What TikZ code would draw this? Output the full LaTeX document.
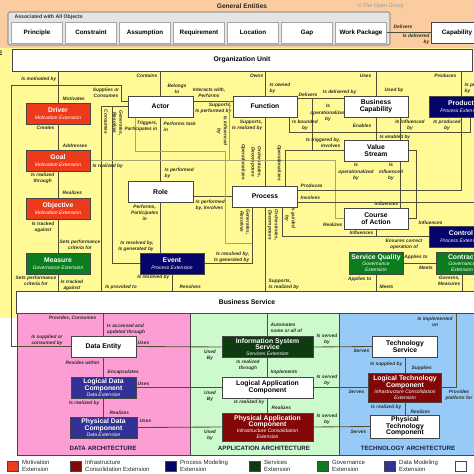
\documentclass[tikz,border=0pt]{standalone}
\usepackage{fontspec}
\setmainfont{Liberation Sans}
\usepackage[rgb]{xcolor}
\usepackage{tikz}
\usetikzlibrary{calc}

\definecolor{peach}{RGB}{250,204,160}
\definecolor{panelgray}{RGB}{228,228,228}
\definecolor{paleyellow}{RGB}{255,250,150}
\definecolor{motivred}{RGB}{238,58,26}
\definecolor{govgreen}{RGB}{10,125,30}
\definecolor{procnavy}{RGB}{5,5,105}
\definecolor{servgreen}{RGB}{14,60,16}
\definecolor{infrared}{RGB}{130,8,8}
\definecolor{datablue}{RGB}{50,50,150}
\definecolor{datapink}{RGB}{252,158,212}
\definecolor{appgreen}{RGB}{204,250,204}
\definecolor{techblue}{RGB}{152,202,248}
\definecolor{wire}{RGB}{80,80,55}
\definecolor{litewire}{RGB}{165,165,115}
\definecolor{boxedge}{RGB}{70,70,70}
\definecolor{reltext}{RGB}{45,45,35}
\definecolor{archtext}{RGB}{30,30,60}

\newcommand\boxtitlefont{\fontsize{6.8}{7.4}\selectfont\bfseries}
\newcommand\toprowfont{\fontsize{6.3}{7}\selectfont\bfseries}
\newcommand\extsubfont{\fontsize{5}{5.6}\selectfont\mdseries\itshape}
\newcommand\relfont{\fontsize{4.8}{6.2}\selectfont\bfseries\itshape}
\newcommand\legendfont{\fontsize{6}{6.6}\selectfont}
\newcommand\archfont{\fontsize{6.2}{7}\selectfont\bfseries}

\pgfdeclarelayer{bg}
\pgfdeclarelayer{wires}
\pgfsetlayers{bg,wires,main}

\begin{document}
\begin{tikzpicture}[x=1pt, y=-1pt,
  box/.style={draw=boxedge, line width=0.6pt, fill=white, inner sep=1pt, align=center, font=\boxtitlefont, minimum height=21pt},
  extbox/.style={box, text=white},
  rel/.style={font=\relfont, text=reltext, inner sep=0.3pt, align=center},
  vlab/.style={rel, rotate=-90},
  conn/.style={draw=wire, line width=0.85pt},
  lite/.style={draw=litewire, line width=0.6pt},
  legsq/.style={draw=boxedge, line width=0.5pt, minimum size=10.5pt, inner sep=0pt, anchor=north west}]

\useasboundingbox (0,0) rectangle (474,474);

% general entities
\node[font=\fontsize{6.6}{7}\selectfont\bfseries, text=black!85] (genent) at (242,6.5) {General Entities};
\node[font=\fontsize{5.2}{6}\selectfont\bfseries, text=black!80, anchor=west] (allobj) at (11,17.5) {Associated with All Objects};
\node[font=\fontsize{5.4}{6}\selectfont, text=black!40, anchor=west] (openg) at (354,6) {© The Open Group};
\foreach \i/\t in {0/Principle, 1/Constraint, 2/Assumption, 3/Requirement, 4/Location, 5/Gap, 6/Work Package}
  \node[box, draw=gray!70, minimum width=51pt, font=\toprowfont] (ge\i) at ({37+54*\i},32.5) {\t};
\node[box, minimum width=52pt, font=\toprowfont] (capability) at (457,32.5) {Capability};

% business architecture
\node[box, minimum width=460pt, minimum height=22pt] (orgunit) at (242,60) {Organization Unit};
\node[font=\fontsize{6.4}{7}\selectfont\bfseries, anchor=east] (archcorner) at (6,53) {E};

\node[extbox, fill=motivred, minimum width=64pt] (driver) at (58,113.5) {Driver\\{\extsubfont Motivation Extension}};
\node[extbox, fill=motivred, minimum width=64pt] (goal) at (58,160.5) {Goal\\{\extsubfont Motivation Extension}};
\node[extbox, fill=motivred, minimum width=64pt] (objective) at (58,208.5) {Objective\\{\extsubfont Motivation Extension}};
\node[extbox, fill=govgreen, minimum width=64pt] (measure) at (58,263.5) {Measure\\{\extsubfont Governance Extension}};

\node[box, minimum width=65pt] (actor) at (160.5,106.5) {Actor};
\node[box, minimum width=65pt] (role) at (160.5,192) {Role};
\node[box, minimum width=64pt] (function) at (265,106.5) {Function};
\node[box, minimum width=65pt] (process) at (265,196.5) {Process};
\node[extbox, fill=procnavy, minimum width=64pt] (event) at (172,263.5) {Event\\{\extsubfont Process Extension}};

\node[box, minimum width=64pt] (bizcap) at (376,106.5) {Business\\Capability};
\node[extbox, fill=procnavy, minimum width=64pt] (product) at (461,106.5) {Product\\{\extsubfont Process Extension}};
\node[box, minimum width=64pt] (valuestream) at (376,150.5) {Value\\Stream};
\node[box, minimum width=64pt] (courseofaction) at (376,218.5) {Course\\of Action};
\node[extbox, fill=procnavy, minimum width=64pt] (control) at (461,236.5) {Control\\{\extsubfont Process Extension}};
\node[extbox, fill=govgreen, minimum width=54pt, minimum height=22pt] (servicequality) at (376,263) {Service Quality\\[-1pt]{\extsubfont Governance}\\[-1.5pt]{\extsubfont Extension}};
\node[extbox, fill=govgreen, minimum width=52pt, minimum height=22pt] (contract) at (462,263) {Contract\\[-1pt]{\extsubfont Governance}\\[-1.5pt]{\extsubfont Extension}};

\node[box, minimum width=462pt, minimum height=22pt] (bizservice) at (247,302) {Business Service};

% data, application and technology
\node[box, minimum width=65pt] (dataentity) at (103.5,346.5) {Data Entity};
\node[extbox, fill=datablue, minimum width=65pt] (ldc) at (103.5,387.5) {Logical Data\\[-1pt]Component\\[-1.5pt]{\extsubfont Data Extension}};
\node[extbox, fill=datablue, minimum width=67pt] (pdc) at (103.5,427.5) {Physical Data\\[-1pt]Component\\[-1.5pt]{\extsubfont Data Extension}};

\node[extbox, fill=servgreen, minimum width=91pt] (iss) at (267.5,347) {Information System\\[-1pt]Service\\[-1.5pt]{\extsubfont Services Extension}};
\node[box, minimum width=91pt] (lac) at (267.5,387.5) {Logical Application\\Component};
\node[extbox, fill=infrared, minimum width=91pt, minimum height=28pt] (pac) at (267.5,427) {Physical Application\\[-1pt]Component\\[-1.5pt]{\extsubfont Infrastructure Consolidation}\\[-1.5pt]{\extsubfont Extension}};

\node[box, minimum width=65pt] (techservice) at (405,346.5) {Technology\\Service};
\node[extbox, fill=infrared, minimum width=73pt, minimum height=29pt] (ltc) at (405,387.5) {Logical Technology\\[-1pt]Component\\[-1.5pt]{\extsubfont Infrastructure Consolidation}\\[-1.5pt]{\extsubfont Extension}};
\node[box, minimum width=69pt, minimum height=23pt] (ptc) at (405,426.5) {Physical\\[-1pt]Technology\\[-1pt]Component};

\node[font=\archfont, text=archtext] (dataarch) at (103,448) {DATA ARCHITECTURE};
\node[font=\archfont, text=archtext] (apparch) at (264,448) {APPLICATION ARCHITECTURE};
\node[font=\archfont, text=archtext] (techarch) at (408,448) {TECHNOLOGY ARCHITECTURE};

% legend
\foreach \lx/\lc/\lt in {7/motivred/{Motivation\\Extension}, 70/infrared/{Infrastructure\\Consolidation Extension}, 165/procnavy/{Process Modeling\\Extension}, 249/servgreen/{Services\\Extension}, 317/govgreen/{Governance\\Extension}, 384/datablue/{Data Modeling\\Extension}}
  {
  \node[legsq, fill=\lc] (sq\lx) at (\lx,460.5) {};
  \node[font=\legendfont, text=black!85, align=left, anchor=west, inner sep=0pt] (lt\lx) at ([xshift=4pt]sq\lx.east) {\lt};
  }
\node[legsq, fill=white] (sqcore) at (455,460.5) {};

\begin{pgfonlayer}{bg}
 \fill[peach] (0,0) rectangle (474,49);
 \fill[paleyellow] (0,48) rectangle (474,318);
 \draw[gray!75!black, line width=0.6pt, fill=panelgray, rounded corners=1.5pt] (8,12) rectangle (390,45);
 \draw[boxedge, line width=0.6pt, fill=datapink] (17,313) rectangle (190,455);
 \draw[boxedge, line width=0.6pt, fill=appgreen] (190,313) rectangle (339,455);
 \draw[boxedge, line width=0.6pt, fill=techblue] (339,313) rectangle (480,455);
\end{pgfonlayer}

\begin{pgfonlayer}{wires}
 \coordinate (consx) at (101,106.5);
 \coordinate (genx) at (112,106.5);
 \coordinate (trigend) at (252,243);
 \coordinate (inflTop) at (229,101);
 \coordinate (inflBot) at (229,160.5);
 \coordinate (deljoin) at (312,98);
 \coordinate (opjoin) at (312,150.5);
 \coordinate (invend) at (474,202);

 \draw[conn] (ge6.east) -- (capability.west)
  node[rel, anchor=west] at (393,26.5) {Delivers}
  node[rel, anchor=north east, align=right] at (430,33) {Is delivered\\by};

 % motivation chain
 \draw[conn] (driver.north) -- (driver.north |- orgunit.south)
  node[rel, anchor=east] at (57,79) {Is motivated by}
  node[rel, anchor=west] at (62,99) {Motivates};
 \draw[conn] (driver.south) -- (goal.north)
  node[rel, anchor=east] at (55,128) {Creates}
  node[rel, anchor=west] at (62,146) {Addresses};
 \draw[conn] (goal.south) -- (objective.north)
  node[rel, anchor=east] at (55,178) {Is realized\\through}
  node[rel, anchor=west] at (62,193) {Realizes};
 \draw[conn] (objective.south) -- (measure.north)
  node[rel, anchor=east] at (55,227) {Is tracked\\against}
  node[rel, anchor=west] at (59,244.5) {Sets performance\\criteria for};
 \draw[conn] (measure.south) -- (measure.south |- bizservice.north)
  node[rel, anchor=east] at (57,280.5) {Sets performance\\criteria for}
  node[rel, anchor=west] at (60,285) {Is tracked\\against};

 % actor and role
 \draw[conn] ([yshift=5.5pt]actor.west) -- ++(-6,0) |- (11,85) |- (dataentity.west)
  node[rel] at (106,93) {Supplies or\\Consumes}
  node[rel] at (47,340) {Is supplied or\\consumed by};
 \draw[conn] (actor.north) -- (actor.north |- orgunit.south)
  node[rel, anchor=east] at (158,76) {Contains}
  node[rel] at (177,89) {Belongs\\to};
 \draw[conn] ([yshift=5.5pt]actor.east) -- ([yshift=5.5pt]function.west)
  node[rel] at (209,93) {Interacts with,\\Performs}
  node[rel, align=right, anchor=north east] at (232,102.5) {Supports,\\Is performed by};
 \draw[conn] (actor.south) -- (role.north)
  node[rel, align=left, anchor=north west] at (163,121) {Performs task\\in}
  node[rel, align=left, anchor=west] at (164,173) {Is performed\\by};
 \draw[conn] (actor.west) -- (consx) -- (consx |- bizservice.north)
  node[vlab] at (106,122) {Consumes}
  node[rel] at (121,287) {Is provided to};
 \draw[conn] (genx) |- (event.west)
  node[vlab] at (118,123) {Generates,\\Resolves}
  node[rel, align=right] at (136,246) {Is resolved by,\\Is generated by};
 \draw[conn] (event.south) -- (event.south |- bizservice.north)
  node[rel, anchor=east] at (170,277.5) {Is resolved by}
  node[rel, anchor=west] at (179,287) {Resolves};
 \draw[conn] (role.south) -- (role.south |- event.north)
  node[rel, anchor=east] at (159,213) {Performs,\\Participates\\in};
 \draw[conn] ([yshift=-4.5pt]role.east) -- (process.west)
  node[rel, align=left, anchor=north west] at (195,199) {Is performed\\by, Involves};
 \draw[lite] ([xshift=-25pt]actor.south) |- (225,151) |- (trigend)
  node[rel, align=right, anchor=north east] at (158,120) {Triggers,\\Participates in};
 \draw[lite] (inflTop) -- (inflBot)
  node[vlab] at (222,131) {Is influenced\\by};

 % function and process
 \draw[conn] (function.north) -- (function.north |- orgunit.south)
  node[rel, anchor=east] at (264,76) {Owns}
  node[rel, align=left, anchor=west] at (269,88) {Is owned\\by};
 \draw[conn] (function.south) -- (process.north)
  node[vlab] at (243,162) {Operationalizes}
  node[vlab] at (256,162) {Orchestrates,\\Decomposes}
  node[rel, align=right, anchor=east] at (263,125.5) {Supports,\\Is realized by};
 \draw[conn] (process.south) -- (process.south |- bizservice.north)
  node[vlab] at (273,225) {Orchestrates,\\Decomposes}
  node[rel, align=left, anchor=west] at (268,284) {Supports,\\Is realized by};
 \draw[conn] (event.east) -| ([xshift=-13pt]process.south)
  node[vlab] at (245,222) {Generates,\\Resolves}
  node[rel, align=right, anchor=east] at (250,257) {Is resolved by,\\Is generated by};
 \draw[lite] (goal.east) -| ([xshift=-8pt]courseofaction.west) -- (courseofaction.west)
  node[rel, anchor=west] at (92,166) {Is realized by}
  node[rel, anchor=east] at (343,225) {Realizes};

 % capability, value stream, product
 \draw[conn] ([yshift=8.5pt]function.east) -- ([yshift=8.5pt]bizcap.west)
  node[rel, anchor=west] at (298,95) {Delivers}
  node[rel, anchor=east] at (357,92) {Is delivered by};
 \draw[conn] (deljoin) -- (opjoin)
  node[rel] at (328,113) {Is\\operationalized\\by};
 \draw[conn] ([xshift=24pt]function.south) -- ++(0,15.5) -| ([xshift=9pt]product.south)
  node[rel] at (305,125.5) {Is bounded\\by}
  node[rel] at (447,125.5) {Is produced\\by};
 \draw[conn] (bizcap.north) -- (bizcap.north |- orgunit.south)
  node[rel, anchor=east] at (372,76) {Uses}
  node[rel, anchor=west] at (384,90) {Used by};
 \draw[conn] (product.north) -- (product.north |- orgunit.south)
  node[rel, anchor=east] at (457,76) {Produces}
  node[rel, align=left, anchor=west] at (464,88) {Is produced\\by};
 \draw[conn] (bizcap.south) -- (valuestream.north)
  node[rel, anchor=east] at (372,126) {Enables}
  node[rel, anchor=west] at (379,137) {Is enabled by};
 \draw[conn] (valuestream.west) -| ([xshift=20pt]process.north)
  node[rel, align=right, anchor=south east] at (341,148.5) {Is triggered by,\\Involves}
  node[vlab] at (279,163) {Operationalizes};
 \draw[conn] ([xshift=24pt]bizcap.south) -- ([xshift=24pt]courseofaction.north)
  node[rel] at (410,125.5) {Is influenced\\by}
  node[rel] at (356,172) {Is\\operationalized\\by}
  node[rel] at (391,172) {Is\\influenced\\by}
  node[rel, anchor=east] at (399,204) {Influences};
 \draw[conn] (valuestream.east) -- ++(8,0) |- (courseofaction.east)
  node[rel, anchor=west] at (418,222.5) {Influences};
 \draw[conn] ([yshift=6pt]process.east) -| (product.south)
  node[rel, anchor=west] at (300,186) {Produces};
 \draw[conn] ([yshift=-5.5pt]process.east) -- (invend)
  node[rel, anchor=west] at (300,197.5) {Involves};

 % course of action, control, governance
 \draw[conn] ([xshift=17pt]process.south) |- (control.west)
  node[vlab] at (290,218) {Is guided\\by}
  node[rel] at (404,244) {Ensures correct\\operation of};
 \draw[conn] (courseofaction.south) -- ++(0,7.5)
  node[rel, anchor=east] at (374,233) {Influences};
 \draw[conn] (servicequality.east) -- (contract.west)
  node[rel] at (416,257) {Applies to}
  node[rel] at (426,267.5) {Meets};
 \draw[conn] (servicequality.south) -- (servicequality.south |- bizservice.north)
  node[rel, anchor=east] at (372,279) {Applies to}
  node[rel, anchor=west] at (379,286.5) {Meets};
 \draw[conn] (contract.south) -- (contract.south |- bizservice.north)
  node[rel, anchor=east] at (461,280.5) {Governs,\\Measures};

 % data architecture
 \draw[conn] (dataentity.north) -- (dataentity.north |- bizservice.south)
  node[rel, anchor=east] at (97,318) {Provides, Consumes}
  node[rel, align=left] at (126,329) {Is accessed and\\updated through};
 \draw[conn] (dataentity.south) -- (ldc.north)
  node[rel, anchor=east] at (100,363) {Resides within}
  node[rel, anchor=west] at (107,372) {Encapsulates};
 \draw[conn] (ldc.south) -- (pdc.north)
  node[rel, anchor=east] at (100,403) {Is realized by}
  node[rel, anchor=west] at (109,412.5) {Realizes};
 \draw[conn] (dataentity.east) -- (iss.west)
  node[rel, anchor=west] at (137,343) {Uses}
  node[rel] at (210,355) {Used\\By};
 \draw[conn] (ldc.east) -- (lac.west)
  node[rel, anchor=west] at (137,384) {Uses}
  node[rel] at (210,396) {Used\\By};
 \draw[conn] (pdc.east) -- (pac.west)
  node[rel, anchor=west] at (139,421) {Uses}
  node[rel] at (210,435) {Used\\by};

 % application architecture
 \draw[conn] (iss.north) -- (iss.north |- bizservice.south)
  node[rel, align=left, anchor=west] at (270,328) {Automates\\some or all of};
 \draw[conn] (iss.south) -- (lac.north)
  node[rel] at (248,365.5) {Is realized\\through}
  node[rel, anchor=west] at (270,372) {Implements};
 \draw[conn] (lac.south) -- (pac.north)
  node[rel, anchor=east] at (265,402) {Is realized by}
  node[rel, anchor=west] at (271,408) {Realizes};
 \draw[conn] (iss.east) -- (techservice.west)
  node[rel] at (327,339) {Is served\\by}
  node[rel, anchor=east] at (370,351) {Serves};
 \draw[conn] (lac.east) -- (ltc.west)
  node[rel] at (327,380.5) {Is served\\by}
  node[rel, anchor=east] at (365,392) {Serves};
 \draw[conn] (pac.east) -- (ptc.west)
  node[rel] at (327,419.5) {Is served\\by}
  node[rel, anchor=east] at (367,432) {Serves};

 % technology architecture
 \draw[conn] (techservice.south) -- (ltc.north)
  node[rel, anchor=east] at (403,364) {Is supplied by}
  node[rel, anchor=west] at (411,368.5) {Supplies};
 \draw[conn] (ltc.south) -- (ptc.north)
  node[rel, anchor=east] at (402,407) {Is realized by}
  node[rel, anchor=west] at (410,412) {Realizes};
 \draw[conn] (ltc.east) -- ++(14.5,0) -- ++(0,-74.5)
  node[rel] at (435,322) {Is implemented\\on}
  node[rel] at (459,395.5) {Provides\\platform for};
\end{pgfonlayer}

\end{tikzpicture}
\end{document}
